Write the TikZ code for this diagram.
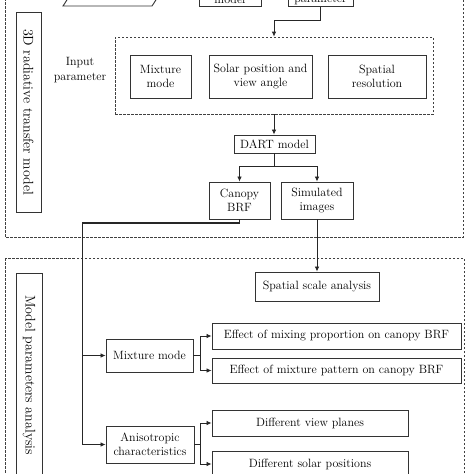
\documentclass[tikz,border=0pt]{standalone}
\usetikzlibrary{arrows.meta,calc}
\begin{document}
\begin{tikzpicture}[x=1pt,y=-1pt,
  every node/.style={font=\fontsize{12}{14.5}\selectfont, text=black},
  boxn/.style={draw=black!80, line width=0.9pt, align=center, inner sep=1pt},
  lab/.style={draw=black!80, line width=0.9pt, font=\fontsize{14}{16}\selectfont, inner sep=1pt},
  dbox/.style={draw=black!75, line width=0.75pt, dash pattern=on 2.5pt off 1.5pt},
  conn/.style={draw=black!85, line width=0.8pt},
  arr/.style={conn, -{Latex[length=5pt,width=4.5pt]}}]
\useasboundingbox (0,0) rectangle (474,474);
\clip (0,0) rectangle (474,474);
\fill[white] (0,0) rectangle (474,474);
% outer dashed groups
\draw[dbox] (5,-10) rectangle (463,237);
\draw[dbox] (5,258) rectangle (464,490);
% side labels
\node[lab, minimum width=25, minimum height=200] (lab1) at (28.5,112) {};
\node[rotate=-90, font=\fontsize{14}{16}\selectfont] (lab1t) at (lab1.center) {3D radiative transfer model};
\node[lab, minimum width=26, minimum height=204] (lab2) at (29,375) {};
\node[rotate=-90, font=\fontsize{14}{16}\selectfont] (lab2t) at (lab2.center) {Model parameters analysis};
% top (cropped) shapes
\draw[draw=black!80, line width=0.9pt] (63,6) -- (152,6) -- (169,-20) -- (80,-20) -- cycle;
\node[boxn, anchor=south, minimum width=62, text height=12, text depth=0, inner ysep=3] (model) at (230,7) {model};
\node[boxn, anchor=south, minimum width=65, text height=12, text depth=3, inner ysep=1] (param) at (320.5,7) {parameter};
% input parameter group
\node[dbox, minimum width=318, minimum height=77] (inbox) at (274,75.5) {};
\node[align=center] (inlab) at (80,70) {Input\\parameter};
\node[boxn, minimum width=61, minimum height=43] (mixin) at (160.5,76.5) {Mixture\\mode};
\node[boxn, minimum width=103, minimum height=43] (solar) at (260.5,76.5) {Solar position and\\view angle};
\node[boxn, minimum width=98, minimum height=43] (spres) at (377,76.5) {Spatial\\resolution};
% model chain
\node[boxn, minimum width=81, minimum height=18] (dart) at (274.5,144) {DART model};
\node[boxn, minimum width=61, minimum height=37] (canopy) at (239.5,200.5) {Canopy\\BRF};
\node[boxn, minimum width=72, minimum height=37] (sim) at (317,200.5) {Simulated\\images};
\node[boxn, minimum width=124, minimum height=29] (ssa) at (317,286.5) {Spatial scale analysis};
% analysis
\node[boxn, minimum width=87, minimum height=33] (mix2) at (149.5,355.5) {Mixture mode};
\node[boxn, minimum width=249, minimum height=26] (eff1) at (336.5,336) {Effect of mixing proportion on canopy BRF};
\node[boxn, minimum width=249, minimum height=25] (eff2) at (336.5,370.5) {Effect of mixture pattern on canopy BRF};
\node[boxn, minimum width=88, minimum height=37] (aniso) at (150,444.5) {Anisotropic\\characteristics};
\node[boxn, minimum width=196, minimum height=26] (vp) at (310,423) {Different view planes};
\node[boxn, minimum width=196, minimum height=26] (sp) at (310,464) {Different solar positions};
% connectors
\draw[arr] (param.south) -- ++(0,13) -| (inbox.north);
\draw[arr] (inbox.south) -- (inbox.south |- dart.north);
\draw[arr] (dart.south) -- ++(0,13) -| (canopy.north);
\draw[arr] (dart.south) -- ++(0,13) -| (sim.north);
\draw[arr] (sim.south) -- (ssa.north);
\coordinate (trunk) at (82,223);
\draw[conn, line width=1.1pt] (canopy.south) |- (trunk);
\draw[arr] (trunk) |- (aniso.west);
\draw[arr] (trunk |- mix2.west) -- (mix2.west);
\coordinate (mfork) at ($(mix2.east)+(7,0)$);
\draw[conn] (mix2.east) -- (mfork);
\draw[arr] (mfork) |- (eff1.west);
\draw[arr] (mfork) |- (eff2.west);
\coordinate (afork) at ($(aniso.east)+(6,0)$);
\draw[conn] (aniso.east) -- (afork);
\draw[arr] (afork) |- (vp.west);
\draw[arr] (afork) |- (sp.west);
\end{tikzpicture}
\end{document}
